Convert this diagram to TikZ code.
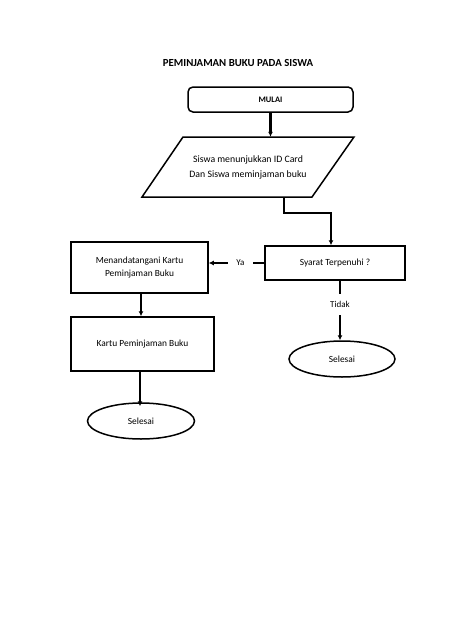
\documentclass[tikz,border=0pt]{standalone}
\usepackage{fontspec}
\setmainfont{Carlito}
\usetikzlibrary{shapes.geometric,arrows.meta}
\begin{document}
\begin{tikzpicture}[x=1pt,y=-1pt,
  box/.style={draw,line width=1.5pt,inner sep=0pt,align=center,font=\fontsize{9.4}{13}\selectfont},
  term/.style={draw,ellipse,line width=1.5pt,inner sep=0pt,font=\fontsize{9.4}{12}\selectfont},
  arr/.style={line width=2.2pt,-{Latex[length=5pt,width=5pt]}},
  ln/.style={line width=2.2pt},
  lbl/.style={inner sep=0pt,font=\fontsize{9}{11}\selectfont}]
\useasboundingbox (0,0) rectangle (474,632);
\node[font=\fontsize{10.8}{13}\selectfont\bfseries] (title) at (238,63) {PEMINJAMAN BUKU PADA SISWA};
\node[box,rounded corners=5pt,minimum width=165pt,minimum height=25pt,font=\fontsize{8.4}{10}\selectfont\bfseries] (mulai) at (270.5,99.5) {MULAI};
\node[align=center,inner sep=0pt,minimum width=130pt,minimum height=60pt,font=\fontsize{9.8}{15}\selectfont] (para) at (248,167)
  {Siswa menunjukkan ID Card\\Dan Siswa meminjaman buku};
\coordinate (ptl) at (183,137);
\coordinate (ptr) at (354,137);
\coordinate (pbr) at (312,197);
\coordinate (pbl) at (142,197);
\draw[line width=1.5pt,line join=miter] (ptl) -- (ptr) -- (pbr) -- (pbl) -- cycle;
\node[box,minimum width=140pt,minimum height=34pt] (syarat) at (335,263) {Syarat Terpenuhi ?};
\node[box,minimum width=137pt,minimum height=51pt] (mena) at (139.5,267.5) {Menandatangani Kartu\\Peminjaman Buku};
\node[box,minimum width=143pt,minimum height=54pt] (kartu) at (142.5,344) {Kartu Peminjaman Buku};
\node[term,minimum width=107pt,minimum height=36pt] (sel1) at (141,421) {Selesai};
\node[term,minimum width=106pt,minimum height=36pt] (sel2) at (342,359) {Selesai};
\node[lbl,minimum width=25pt] (ya) at (240.5,263) {Ya};
\node[lbl,minimum height=21pt] (tidak) at (340,304.5) {Tidak};
\coordinate (pb) at (284,197);
\coordinate (bend) at (284,213);
% connectors
\draw[arr] (mulai.south) -- (mulai.south |- para.north);
\draw[arr] (pb) -- (bend) -| ([xshift=-4pt]syarat.north);
\draw[ln] (syarat.west) -- (ya.east);
\draw[arr] (ya.west) -- (ya.west -| mena.east);
\draw[ln] (tidak.north |- syarat.south) -- (tidak.north);
\draw[arr] (tidak.south) -- (tidak.south |- sel2.north);
\draw[arr] ([xshift=1.5pt]mena.south) -- ([xshift=1.5pt]mena.south |- kartu.north);
\draw[arr] ([xshift=-2.5pt]kartu.south) -- ([xshift=-2.5pt,yshift=-4pt]kartu.south |- sel1.north);
\end{tikzpicture}
\end{document}
